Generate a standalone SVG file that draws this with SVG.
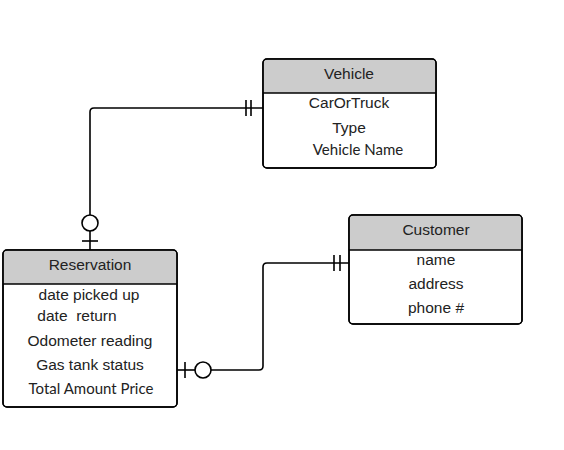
<svg xmlns="http://www.w3.org/2000/svg" width="564" height="450" viewBox="0 0 564 450">
<style>
.box{fill:#fff;stroke:#000;stroke-width:1.5}
.hdr{fill:#ccc;stroke:none}
.sep{stroke:#000;stroke-width:1.5}
.t{font-family:"Liberation Sans",Arial,sans-serif;font-size:15.5px;fill:#222;text-anchor:middle;dominant-baseline:central}
.c{font-family:Lato,"Open Sans",sans-serif;font-size:15px;fill:#222;text-anchor:middle;dominant-baseline:central}
.ln{fill:none;stroke:#000;stroke-width:1.6}
.o{fill:#fff;stroke:#000;stroke-width:1.6}
</style>
<rect width="564" height="450" fill="#fff"/>
<g id="connectors">
<path class="ln" d="M263 108 H94 Q90 108 90 112 V215"/>
<line class="ln" x1="246" y1="100" x2="246" y2="116"/>
<line class="ln" x1="251" y1="100" x2="251" y2="116"/>
<circle class="o" cx="90" cy="223" r="8"/>
<line class="ln" x1="90" y1="231" x2="90" y2="250"/>
<line class="ln" x1="82" y1="241" x2="98" y2="241"/>
<path class="ln" d="M349 263 H267 Q263 263 263 267 V366 Q263 370 259 370 H211"/>
<line class="ln" x1="334" y1="255" x2="334" y2="271"/>
<line class="ln" x1="340" y1="255" x2="340" y2="271"/>
<circle class="o" cx="203" cy="370" r="8"/>
<line class="ln" x1="195" y1="370" x2="177" y2="370"/>
<line class="ln" x1="185" y1="362" x2="185" y2="378"/>
</g>
<g id="vehicle">
<rect class="box" x="263" y="59" width="173" height="109" rx="4"/>
<path class="hdr" d="M267 59.8 H432 Q435.2 59.8 435.2 63 V93 H263.8 V63 Q263.8 59.8 267 59.8Z"/>
<rect x="263" y="59" width="173" height="109" rx="4" fill="none" stroke="#000" stroke-width="1.5"/>
<line class="sep" x1="263" y1="93" x2="436" y2="93"/>
<text class="t" x="349" y="73">Vehicle</text>
<text class="t" x="349" y="102">CarOrTruck</text>
<text class="t" x="349" y="127">Type</text>
<text class="c" x="358" y="149">Vehicle Name</text>
</g>
<g id="reservation">
<rect class="box" x="3" y="250" width="174" height="157" rx="4"/>
<path class="hdr" d="M7 250.8 H173 Q176.2 250.8 176.2 254 V284 H3.8 V254 Q3.8 250.8 7 250.8Z"/>
<rect x="3" y="250" width="174" height="157" rx="4" fill="none" stroke="#000" stroke-width="1.5"/>
<line class="sep" x1="3" y1="284" x2="177" y2="284"/>
<text class="t" x="90" y="264">Reservation</text>
<text class="t" x="89" y="294">date picked up</text>
<text class="t" x="77" y="315" xml:space="preserve">date  return</text>
<text class="t" x="90" y="340">Odometer reading</text>
<text class="t" x="90" y="364">Gas tank status</text>
<text class="c" x="91" y="388">Total Amount Price</text>
</g>
<g id="customer">
<rect class="box" x="349" y="215" width="173" height="109" rx="4"/>
<path class="hdr" d="M353 215.8 H518 Q521.2 215.8 521.2 219 V250 H349.8 V219 Q349.8 215.8 353 215.8Z"/>
<rect x="349" y="215" width="173" height="109" rx="4" fill="none" stroke="#000" stroke-width="1.5"/>
<line class="sep" x1="349" y1="250" x2="522" y2="250"/>
<text class="t" x="436" y="229">Customer</text>
<text class="t" x="436" y="259">name</text>
<text class="t" x="436" y="283">address</text>
<text class="t" x="436" y="307">phone #</text>
</g>
</svg>
